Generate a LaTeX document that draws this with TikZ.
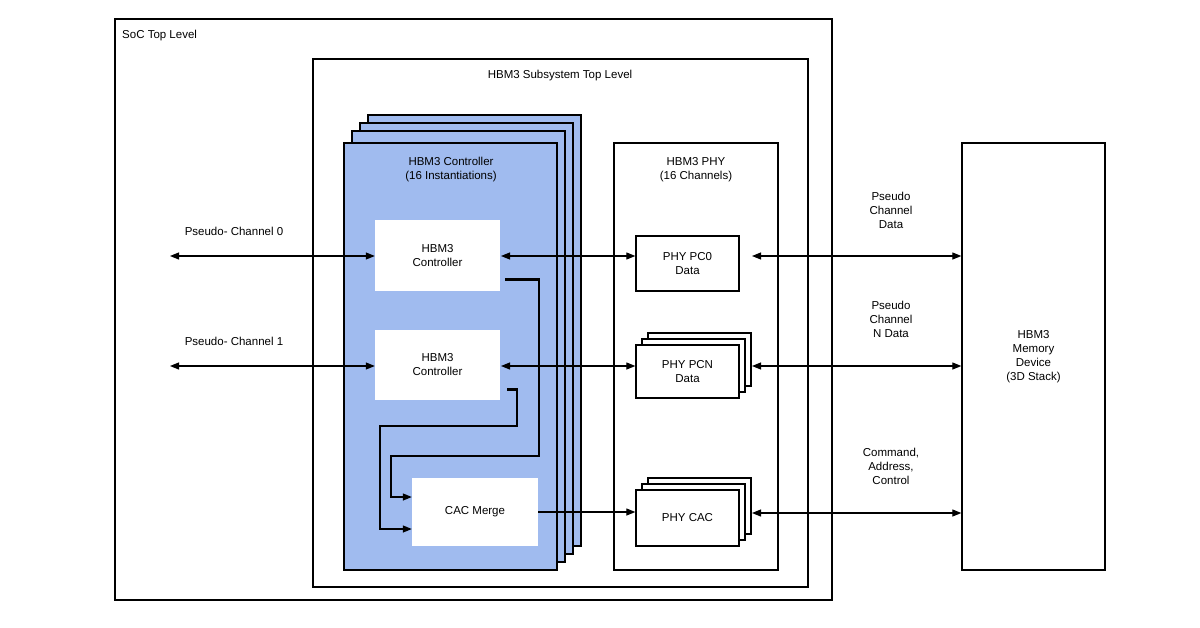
\documentclass[tikz,border=0pt]{standalone}
\usepackage{fontspec}
\setmainfont{Liberation Sans}
\usetikzlibrary{arrows.meta}
\begin{document}
\begin{tikzpicture}[x=1pt,y=-1pt,
  box/.style={draw=black,line width=1.3pt},
  wbox/.style={draw=black,line width=1.3pt,fill=white},
  lbl/.style={font=\fontsize{11.5}{14}\selectfont,align=center,inner sep=0pt},
  con/.style={line width=1.1pt,-{Triangle[length=9pt,width=7pt]}},
  bi/.style={line width=1.1pt,{Triangle[length=9pt,width=7pt]}-{Triangle[length=9pt,width=7pt]}},
  blue/.style={draw=black,line width=1.3pt,fill=ctrlblue}]
\definecolor{ctrlblue}{HTML}{A0BBEF}
\useasboundingbox (0,0) rectangle (1200,627);
\fill[white] (0,0) rectangle (1200,627);
\draw[box] (115,19) rectangle (832,600);
\node[lbl,anchor=west] (soc) at (122,36) {SoC Top Level};
\draw[box] (313,59) rectangle (808,587);
\node[lbl] (sub) at (560,76) {HBM3 Subsystem Top Level};
% controller stack
\draw[blue] (368,115) rectangle (581,546);
\draw[blue] (360,123) rectangle (573,554);
\draw[blue] (352,131) rectangle (565,562);
\draw[blue] (344,143) rectangle (557,570);
\node[lbl] (ctl) at (451,170) {HBM3 Controller\\(16 Instantiations)};
% PHY
\draw[box] (614,143) rectangle (778,570);
\node[lbl] (phy) at (696,170) {HBM3 PHY\\(16 Channels)};
% memory
\node[box,minimum width=143pt,minimum height=427pt,lbl] (mem) at (1033.5,356.5) {HBM3\\Memory\\Device\\(3D Stack)};
% controllers
\node[fill=white,minimum width=125pt,minimum height=71pt,lbl] (c0) at (437.5,255.5) {HBM3\\Controller};
\node[fill=white,minimum width=125pt,minimum height=70pt,lbl] (c1) at (437.5,365) {HBM3\\Controller};
\node[fill=white,minimum width=126pt,minimum height=68pt,lbl] (cac) at (475,512) {CAC Merge};
% PHY blocks
\node[wbox,minimum width=103pt,minimum height=55pt,lbl] (p0) at (687.5,263.5) {PHY PC0\\Data};
\draw[wbox] (648,333) rectangle (751,386);
\draw[wbox] (642,339) rectangle (745,392);
\node[wbox,minimum width=103pt,minimum height=53pt,lbl] (pn) at (687.5,371.5) {PHY PCN\\Data};
\draw[wbox] (648,478) rectangle (751,534);
\draw[wbox] (642,484) rectangle (745,540);
\node[wbox,minimum width=103pt,minimum height=56pt,lbl] (pc) at (687.5,518) {PHY CAC};
% left inputs
\coordinate (l0) at (170,256);
\coordinate (l1) at (170,366);
\node[lbl] (t0) at (234,231) {Pseudo- Channel 0};
\node[lbl] (t1) at (234,341) {Pseudo- Channel 1};
\draw[bi] (l0) -- (c0.west|-l0);
\draw[bi] (l1) -- (c1.west|-l1);
\draw[bi] (501,256) -- (p0.west|-0,256);
\draw[bi] (501,366) -- (pn.west|-0,366);
\draw[con] (cac.east) -- (pc.west|-cac.east);
\draw[bi] (752,256) -- (mem.west|-0,256);
\draw[bi] (752,366) -- (mem.west|-0,366);
\draw[bi] (752,513) -- (mem.west|-0,513);
\node[lbl] (r0) at (891,210) {Pseudo\\Channel\\Data};
\node[lbl] (r1) at (891,319) {Pseudo\\Channel\\N Data};
\node[lbl] (r2) at (891,466) {Command,\\Address,\\Control};
% internal routing
\draw[line width=3pt] (505,279) -- (540,279);
\draw[con,line width=1.3pt] (539,279) -- (539,456) -- (391,456) -- (391,497) -- (cac.west|-0,497);
\draw[line width=3pt] (507,389) -- (518,389);
\draw[con,line width=1.3pt] (517,389) -- (517,426) -- (380,426) -- (380,529) -- (cac.west|-0,529);
\end{tikzpicture}
\end{document}
